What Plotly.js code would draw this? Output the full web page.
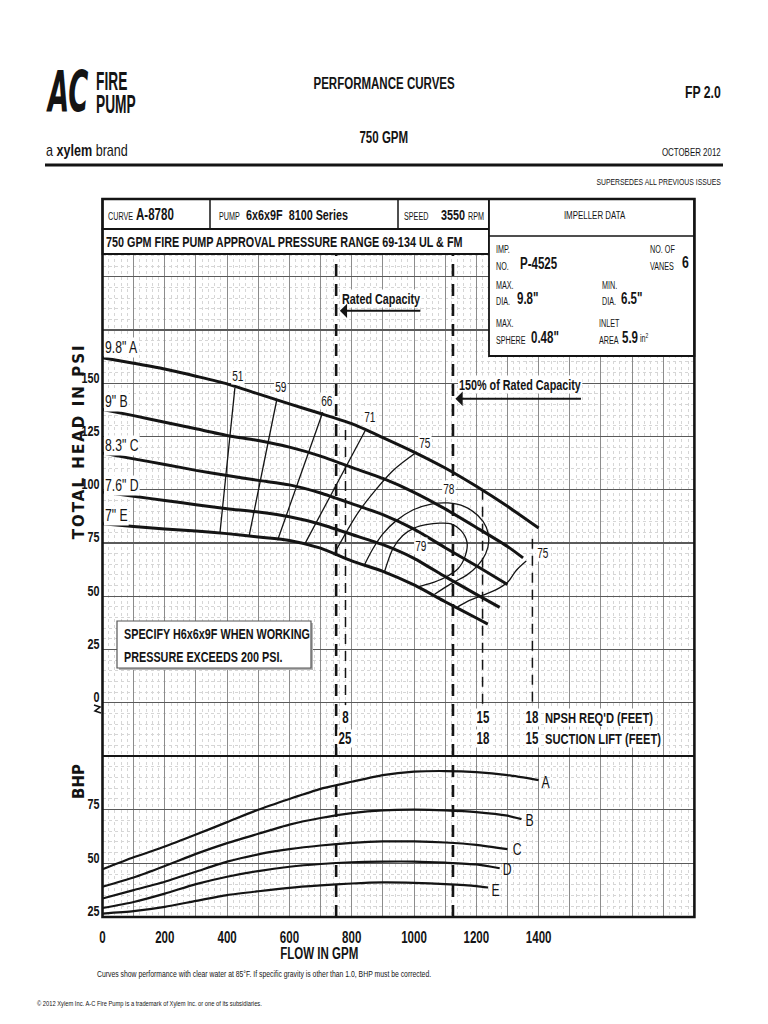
<!DOCTYPE html>
<html><head><meta charset="utf-8">
<script src="https://cdn.plot.ly/plotly-3.0.1.min.js"></script>
<style>html,body{margin:0;padding:0;background:#fff}#chart{width:768px;height:1024px}</style>
</head><body><div id="chart"></div>
<script>
// ---------------- DATA ----------------
const flowTicks = [0,100,200,300,400,500,600,700,800,900,1000,1100,1200,1300,1400,1500,1600,1700,1800,1900];
const flowTickText = ['0','','200','','400','','600','','800','','1000','','1200','','1400','','','','',''];
const headTicks = [-25,0,25,50,75,100,125,150,175,200,225];
const headTickText = ['','0','25','50','75','100','125','150','','',''];
const bhpTicks = [25,50,75,100];
const bhpTickText = ['25','50','75',''];

const impellerNames = ['A','B','C','D','E'];
const impellerLabels = ['9.8" A','9" B','8.3" C','7.6" D','7" E'];
const impellerLabelHead = [166.7,141.5,120.8,102.1,88];

// Total head (psi) vs flow (gpm)
const headFlowA = [0,100,200,300,400,500,600,700,800,900,1000,1100,1200,1300,1400];
const headA     = [162,159.4,156.7,153.3,149.7,145,140.3,135.8,131,124.5,117.7,110.2,101.6,92.2,82];
const headFlowB = [0,100,200,300,400,500,600,700,800,900,1000,1100,1200,1300,1350];
const headB     = [137.7,134.8,131.7,128.6,125.5,123.1,120,115.8,110.5,105.3,98.8,91,82.3,73.4,68];
const headFlowC = [0,100,200,300,400,500,600,700,800,900,1000,1100,1200,1300];
const headC     = [117.2,114.5,111.9,109.1,106.7,104.4,102.3,98.5,93.5,88.3,81.5,72.8,64.3,55.5];
const headFlowD = [0,100,200,300,400,500,600,700,800,900,1000,1100,1200,1275];
const headD     = [98.9,96.9,95,93,91.1,89.5,87.3,83.8,79,74.2,67.8,59.2,50.9,44.8];
const headFlowE = [0,100,200,300,400,500,600,700,800,900,1000,1100,1200,1237];
const headE     = [84,82.8,81.6,80.6,79.4,77.8,76.2,72.6,66.6,61.7,55.3,47.4,39.8,36.9];

// Efficiency (%) iso-lines
const effNames = ['51','59','66','71','75','78','79','75'];
const effFlow = [
  [425,377],
  [559,471],
  [707,562],
  [843,650],
  [1009,932,825,746],
  [841,868,900,943,996,1055,1109,1162,1205,1232,1240,1230,1205,1168,1119,1066],
  [905,932,964,1002,1039,1082,1119,1151,1170,1165,1141,1098,1050,1012],
  [1360,1328,1301,1264,1221,1178,1140]
];
const effHead = [
  [147.8,79.7],
  [141.9,78.6],
  [136.4,76.3],
  [127.7,74.7],
  [117.7,108.9,90.2,70.5],
  [64.8,72.3,79.3,85.5,90.5,93.3,93.8,92.1,87.9,82.4,76.2,69.9,64.5,59.8,55.9,50.9],
  [61.4,72.3,78.5,82.1,83.6,84.3,84,80.8,75.4,69.2,62.9,58.7,55.9,54.4],
  [66.5,62.1,56.7,53.1,50.5,48.1,45]
];
const effLabelFlow = [435,573,720,858,1035,1112,1021,1413];
const effLabelHead = [153.5,148.4,141.8,134.2,121.8,100.4,73.8,70.5];

// Brake horsepower vs flow
const bhpFlowA = [0,100,200,300,400,500,600,700,800,900,1000,1100,1200,1300,1400];
const bhpA     = [47.2,52.8,57.8,63.4,69.2,75,80,84.7,88,91.1,92.7,93,92.5,91.1,88.8];
const bhpFlowB = [0,100,200,300,400,500,600,700,800,900,1000,1100,1200,1300,1345];
const bhpB     = [39.1,43.4,48.75,54.4,59.4,63.75,68,71.1,73.4,74.7,75,74.7,73.9,72.2,70.6];
const bhpFlowC = [0,100,200,300,400,500,600,700,800,900,1000,1100,1200,1300];
const bhpC     = [33.6,37.5,41.4,46.1,50.8,54.2,56.6,58.3,59.5,60.2,60.2,59.7,58.6,56.6];
const bhpFlowD = [0,100,200,300,400,500,600,700,800,900,1000,1100,1200,1275];
const bhpD     = [29.2,32,35.9,40.3,43.75,46.4,48.4,49.7,50.5,50.8,50.8,50.3,49.5,47.7];
const bhpFlowE = [0,100,200,300,400,500,600,700,800,900,1000,1100,1200,1238];
const bhpE     = [26.6,27.7,29.7,32.5,35.2,37,38.6,39.7,40.6,41.1,40.9,40.3,39.4,38.75];
const bhpLabelFlow = [1423,1372,1330,1300,1262];
const bhpLabelValue = [87.5,70,56.6,46.9,37.5];

// Rated capacity / 150% lines and NPSH markers
const ratedFlows = [750,1125];
const npshFlows = [780,1220,1380];
const npshTopHead = [128,100,77];
const npshBottomHead = -1;
const npshRequired = ['8','15','18'];
const suctionLift = ['25','18','15'];

// ---------------- DRAWING ----------------
const W = 768, H = 1024;
const FN = "'Liberation Sans',Arial,sans-serif";
const INK = '#141414';
const PX0 = 102.5, PX1 = 694.4;
const PTOP = 199, PMID = 756, PBOT = 917;
const px = x => x / W, py = y => 1 - y / H;

const headRange = [-25, 236.5];
const bhpRange = [25, 100];

const traces = [];
const headSets = [[headFlowA,headA],[headFlowB,headB],[headFlowC,headC],[headFlowD,headD],[headFlowE,headE]];
headSets.forEach((s,i) => traces.push({x:s[0], y:s[1], xaxis:'x', yaxis:'y', mode:'lines', name:impellerNames[i],
  line:{color:INK, width:3, shape:'spline', smoothing:0.6}, hoverinfo:'skip'}));
effFlow.forEach((f,i) => traces.push({x:f, y:effHead[i], xaxis:'x', yaxis:'y', mode:'lines',
  line:{color:INK, width:1.3, shape:'spline', smoothing:0.8}, hoverinfo:'skip'}));
const bhpSets = [[bhpFlowA,bhpA],[bhpFlowB,bhpB],[bhpFlowC,bhpC],[bhpFlowD,bhpD],[bhpFlowE,bhpE]];
bhpSets.forEach((s,i) => traces.push({x:s[0], y:s[1], xaxis:'x', yaxis:'y2', mode:'lines', name:impellerNames[i],
  line:{color:INK, width:2.2, shape:'spline', smoothing:0.6}, hoverinfo:'skip'}));
ratedFlows.forEach(f => {
  traces.push({x:[f,f], y:headRange, xaxis:'x', yaxis:'y', mode:'lines', line:{color:INK, width:2.6, dash:'12px,8px'}, hoverinfo:'skip'});
  traces.push({x:[f,f], y:bhpRange, xaxis:'x', yaxis:'y2', mode:'lines', line:{color:INK, width:2.6, dash:'12px,8px'}, hoverinfo:'skip'});
});
npshFlows.forEach((f,i) => traces.push({x:[f,f], y:[npshTopHead[i], npshBottomHead], xaxis:'x', yaxis:'y', mode:'lines',
  line:{color:INK, width:1.5, dash:'10px,7px'}, hoverinfo:'skip'}));

function alignOf(a){ return a === 'left' ? 'left' : (a === 'right' ? 'right' : 'center'); }
function txt(text, x, y, size, o) {
  o = o || {};
  const a = o.anchor || 'left';
  return {text, xref:'paper', yref:'paper', x:px(x), y:py(y), xanchor:a, align:alignOf(a), yanchor:'middle',
    showarrow:false, bgcolor:o.bg, borderpad:0,
    font:{family:o.family||FN, size, color:o.color||INK, weight:o.bold?'bold':'normal', style:o.italic?'italic':'normal'}};
}
function dtxt(text, fx, v, yref, size, o) {
  o = o || {};
  const a = o.anchor || 'center';
  return {text, xref:'x', yref, x:fx, y:v, xanchor:a, align:alignOf(a), yanchor:'middle', showarrow:false,
    bgcolor:o.bg, borderpad:0, font:{family:FN, size, color:INK, weight:o.bold?'bold':'normal'}};
}

const ann = [];
// page header
ann.push(txt('AC', 43, 92, 57, {bold:true, italic:true, family:"'DejaVu Sans',sans-serif"}));
ann.push(txt('FIRE', 95, 81, 25, {bold:true}));
ann.push(txt('PUMP', 95, 104, 25, {bold:true}));
ann.push(txt('a <b>xylem</b> brand', 45, 150, 17));
ann.push(txt('PERFORMANCE CURVES', 384, 83, 16, {anchor:'center', bold:true}));
ann.push(txt('750 GPM', 384, 137, 16, {anchor:'center', bold:true}));
ann.push(txt('FP 2.0', 722, 92, 17, {anchor:'right', bold:true}));
ann.push(txt('OCTOBER 2012', 722, 152, 11, {anchor:'right'}));
ann.push(txt('SUPERSEDES ALL PREVIOUS ISSUES', 722, 181, 9.5, {anchor:'right'}));
// table header
ann.push(txt('CURVE', 107, 216, 10));
ann.push(txt('A-8780', 135, 214, 16, {bold:true}));
ann.push(txt('PUMP', 218, 216, 10));
ann.push(txt('6x6x9F  8100 Series', 245, 214, 15, {bold:true}));
ann.push(txt('SPEED', 403, 216, 10));
ann.push(txt('3550', 440, 214, 15, {bold:true}));
ann.push(txt('RPM', 467, 216, 10));
ann.push(txt('IMPELLER DATA', 595, 215, 11, {anchor:'center'}));
ann.push(txt('750 GPM FIRE PUMP APPROVAL PRESSURE RANGE 69-134 UL &amp; FM', 105, 241, 15, {bold:true}));
// impeller data
ann.push(txt('IMP.', 495, 249, 10)); ann.push(txt('NO.', 495, 266, 10));
ann.push(txt('P-4525', 519, 263, 16, {bold:true}));
ann.push(txt('NO. OF', 649, 249, 10)); ann.push(txt('VANES', 649, 266, 10));
ann.push(txt('6', 681, 262, 17, {bold:true}));
ann.push(txt('MAX.', 495, 285, 10)); ann.push(txt('DIA.', 495, 301, 10));
ann.push(txt('9.8"', 516, 298, 16, {bold:true}));
ann.push(txt('MIN.', 601, 285, 10)); ann.push(txt('DIA.', 601, 301, 10));
ann.push(txt('6.5"', 620, 298, 16, {bold:true}));
ann.push(txt('MAX.', 495, 323, 10)); ann.push(txt('SPHERE', 495, 340, 10));
ann.push(txt('0.48"', 530, 337, 16, {bold:true}));
ann.push(txt('INLET', 598, 323, 10)); ann.push(txt('AREA', 598, 340, 10));
ann.push(txt('5.9', 621, 337, 16, {bold:true}));
ann.push(txt('in<sup>2</sup>', 639, 338, 10));
// axis titles
ann.push({text:'TOTAL HEAD IN PSI', xref:'paper', yref:'paper', x:px(79), y:py(443), textangle:-90, showarrow:false,
  xanchor:'center', yanchor:'middle', font:{family:"'DejaVu Sans',sans-serif", size:15, weight:'bold', color:INK}});
ann.push({text:'BHP', xref:'paper', yref:'paper', x:px(79), y:py(782), textangle:-90, showarrow:false,
  xanchor:'center', yanchor:'middle', font:{family:"'DejaVu Sans',sans-serif", size:15, weight:'bold', color:INK}});
ann.push(txt('FLOW IN GPM', 319, 953, 16, {anchor:'center', bold:true}));
ann.push(txt('Curves show performance with clear water at 85°F. If specific gravity is other than 1.0, BHP must be corrected.', 96, 973, 9.5));
ann.push(txt('© 2012 Xylem Inc. A-C Fire Pump is a trademark of Xylem Inc. or one of its subsidiaries.', 36, 1003, 8));
// specify box
ann.push(txt('SPECIFY H6x6x9F WHEN WORKING', 123, 633, 15, {bold:true}));
ann.push(txt('PRESSURE EXCEEDS 200 PSI.', 123, 656, 15, {bold:true}));
// curve labels
impellerLabels.forEach((t,i) => ann.push(dtxt(t, 4, impellerLabelHead[i], 'y', 17, {anchor:'left', bg:'white'})));
effNames.forEach((t,i) => ann.push(dtxt(t, effLabelFlow[i], effLabelHead[i], 'y', 14, {bg:'white'})));
impellerNames.forEach((t,i) => ann.push(dtxt(t, bhpLabelFlow[i], bhpLabelValue[i], 'y2', 17)));
// rated capacity annotations
ann.push(dtxt('Rated Capacity', 766, 189.7, 'y', 15, {anchor:'left', bold:true, bg:'white'}));
ann.push({text:'', xref:'x', yref:'y', x:762, y:184, ax:82, ay:0, showarrow:true, arrowhead:1, arrowsize:1.2, arrowwidth:2, arrowcolor:INK});
ann.push(dtxt('150% of Rated Capacity', 1141, 149.3, 'y', 15, {anchor:'left', bold:true, bg:'white'}));
ann.push({text:'', xref:'x', yref:'y', x:1133, y:142.7, ax:127, ay:0, showarrow:true, arrowhead:1, arrowsize:1.2, arrowwidth:2, arrowcolor:INK});
// NPSH
npshFlows.forEach((f,i) => {
  ann.push(dtxt(npshRequired[i], f, -7, 'y', 16, {bold:true, bg:'white'}));
  ann.push(dtxt(suctionLift[i], f, -17, 'y', 16, {bold:true, bg:'white'}));
});
ann.push(dtxt("NPSH REQ'D (FEET)", 1417, -7, 'y', 15.5, {anchor:'left', bold:true, bg:'white'}));
ann.push(dtxt('SUCTION LIFT (FEET)', 1417, -17, 'y', 15.5, {anchor:'left', bold:true, bg:'white'}));

const shapes = [
  {type:'line', xref:'paper', yref:'paper', x0:px(45), x1:px(723), y0:py(165), y1:py(165), line:{color:INK, width:3}},
  {type:'rect', xref:'paper', yref:'paper', x0:px(PX0), x1:px(489), y0:py(PTOP), y1:py(229), fillcolor:'white', line:{color:INK, width:1.8}, layer:'above'},
  {type:'rect', xref:'paper', yref:'paper', x0:px(PX0), x1:px(489), y0:py(229), y1:py(254), fillcolor:'white', line:{color:INK, width:1.8}, layer:'above'},
  {type:'line', xref:'paper', yref:'paper', x0:px(210), x1:px(210), y0:py(PTOP), y1:py(229), line:{color:INK, width:1.5}, layer:'above'},
  {type:'line', xref:'paper', yref:'paper', x0:px(398), x1:px(398), y0:py(PTOP), y1:py(229), line:{color:INK, width:1.5}, layer:'above'},
  {type:'rect', xref:'paper', yref:'paper', x0:px(489), x1:px(PX1), y0:py(PTOP), y1:py(356), fillcolor:'white', line:{color:INK, width:1.8}, layer:'above'},
  {type:'line', xref:'paper', yref:'paper', x0:px(489), x1:px(PX1), y0:py(236), y1:py(236), line:{color:INK, width:1.5}, layer:'above'},
  {type:'rect', xref:'paper', yref:'paper', x0:px(119), x1:px(313), y0:py(623), y1:py(670), fillcolor:'#b5b5b5', line:{width:0}, layer:'above'},
  {type:'rect', xref:'paper', yref:'paper', x0:px(117), x1:px(311), y0:py(621), y1:py(668), fillcolor:'white', line:{color:'#555', width:1.2}, layer:'above'},
  {type:'line', xref:'paper', yref:'paper', x0:px(PX0), x1:px(PX1), y0:py(PMID), y1:py(PMID), line:{color:INK, width:2.2}, layer:'above'},
  {type:'rect', xref:'paper', yref:'paper', x0:px(PX0), x1:px(PX1), y0:py(PTOP), y1:py(PBOT), line:{color:INK, width:2.6}, layer:'above'},
  {type:'path', xref:'paper', yref:'paper', line:{color:INK, width:1.6}, layer:'above',
    path:`M ${px(94)} ${py(705)} L ${px(100)} ${py(707)} L ${px(95)} ${py(711)} L ${px(101)} ${py(713)}`}
];

const layout = {
  width:W, height:H, margin:{l:0, r:0, t:0, b:0}, paper_bgcolor:'white', plot_bgcolor:'white',
  showlegend:false, hovermode:false,
  xaxis:{domain:[px(PX0), px(PX1)], range:[0,1900], anchor:'y2', tickmode:'array', tickvals:flowTicks, ticktext:flowTickText,
    tickfont:{family:FN, size:16, color:INK, weight:'bold'}, ticks:'', ticklabelstandoff:9, showgrid:true, gridcolor:'#8c8c8c', gridwidth:1,
    zeroline:false, showline:false,
    minor:{tickmode:'linear', tick0:0, dtick:20, showgrid:true, gridcolor:'#d6d6d6', griddash:'dot', gridwidth:1, ticks:''}},
  yaxis:{domain:[py(PMID), py(PTOP)], range:headRange, anchor:'x', tickmode:'array', tickvals:headTicks, ticktext:headTickText,
    tickfont:{family:FN, size:15, color:INK, weight:'bold'}, ticks:'', ticklabelstandoff:2, ticklabelshift:-6,
    showgrid:true, gridcolor:'#5a5a5a', gridwidth:1.4, zeroline:false, showline:false,
    minor:{tickmode:'linear', tick0:0, dtick:5, showgrid:true, gridcolor:'#d6d6d6', griddash:'dot', gridwidth:1, ticks:''}},
  yaxis2:{domain:[py(PBOT), py(PMID)], range:bhpRange, anchor:'x', tickmode:'array', tickvals:bhpTicks, ticktext:bhpTickText,
    tickfont:{family:FN, size:15, color:INK, weight:'bold'}, ticks:'', ticklabelstandoff:2, ticklabelshift:-6,
    showgrid:true, gridcolor:'#5a5a5a', gridwidth:1.4, zeroline:false, showline:false,
    minor:{tickmode:'linear', tick0:0, dtick:5, showgrid:true, gridcolor:'#d6d6d6', griddash:'dot', gridwidth:1, ticks:''}},
  annotations:ann, shapes:shapes
};

// condensed lettering (the original uses a condensed face): squeeze glyphs horizontally
const condenseFactor = {'AC':0.48, 'FIRE':0.55, 'a xylem brand':0.74};
Plotly.newPlot('chart', traces, layout, {staticPlot:true, displayModeBar:false}).then(gd => {
  gd.querySelectorAll('text').forEach(t => {
    const s = t.textContent;
    if (!s || !s.trim()) return;
    if (s === 'TOTAL HEAD IN PSI') { t.setAttribute('textLength', 194); t.setAttribute('lengthAdjust', 'spacing'); return; }
    if (s === 'BHP') return;
    const L = t.getComputedTextLength();
    let f = condenseFactor[s];
    if (f === undefined) f = (s === 'PUMP' && L > 40) ? 0.55 : 0.72;
    t.setAttribute('textLength', (L * f).toFixed(2));
    t.setAttribute('lengthAdjust', 'spacingAndGlyphs');
  });
  gd.querySelectorAll('g.annotation').forEach(g => {
    const t = g.querySelector('text.annotation-text'), r = g.querySelector('rect.bg');
    if (!t || !r || !t.textContent.trim()) return;
    const bb = t.getBBox();
    r.setAttribute('x', bb.x - 1); r.setAttribute('width', bb.width + 2);
  });
});
</script></body></html>
